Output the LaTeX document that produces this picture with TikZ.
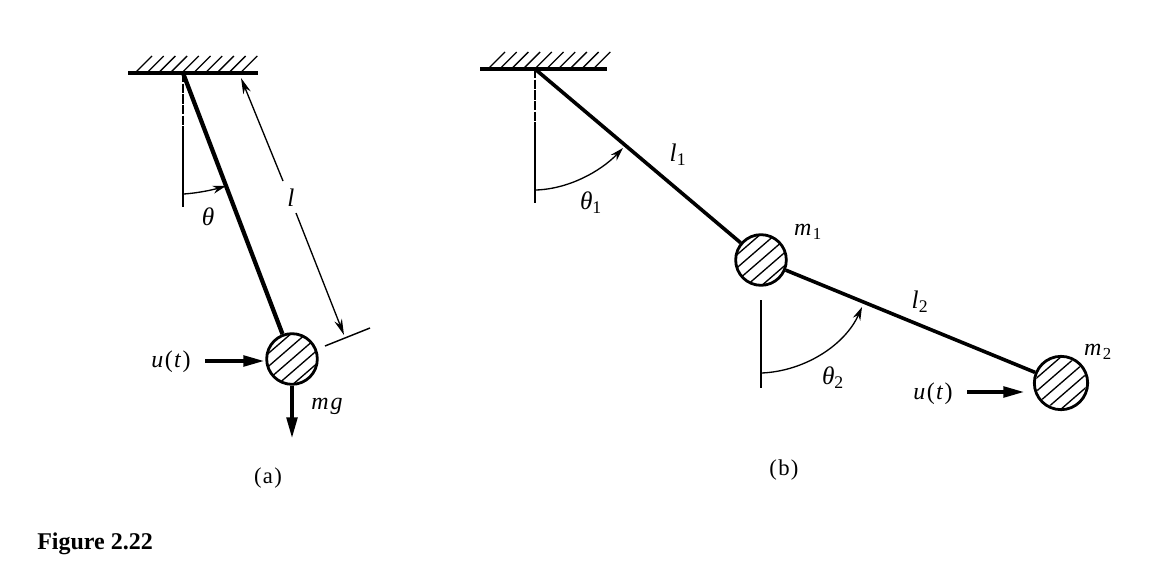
\documentclass[tikz,border=0pt]{standalone}
\usepackage{fontspec}
\setmainfont{Liberation Serif}
\usetikzlibrary{arrows.meta}
\tikzset{
  x=0.75pt,y=-0.75pt,
  ceil/.style={line width=2.5pt},
  hatchline/.style={line width=1pt},
  rod/.style={line width=3.2pt},
  rodb/.style={line width=2.7pt},
  thinline/.style={line width=1pt},
  dimarrow/.style={line width=1pt,-{Stealth[length=12pt,width=6pt]}},
  anglearrow/.style={line width=1pt,-{Stealth[length=10pt,width=6pt]}},
  force/.style={line width=3.6pt,-{Stealth[length=17pt,width=7.5pt,inset=0pt]}},
  ball/.style={circle,draw,line width=2.1pt,inner sep=0pt,minimum size=38pt},
  lab/.style={inner sep=0pt,font=\fontsize{18}{20}\selectfont},
  biglab/.style={inner sep=0pt,font=\fontsize{19}{21}\selectfont},
  caplab/.style={inner sep=0pt,font=\fontsize{17}{19}\selectfont}
}
\newcommand{\ballhatch}[1]{%
  \begin{scope}
    \clip (#1.center) circle[radius=25];
    \foreach \d in {-20,-10,0,10,20}
      \draw[hatchline] ([shift={(-30+\d*0.7,26+\d*0.7)}]#1.center) -- ([shift={(30+\d*0.7,-26+\d*0.7)}]#1.center);
  \end{scope}}
\newcommand{\ut}{\textit{u}\kern1pt(\kern1pt\textit{t}\kern1pt)}
\begin{document}
\begin{tikzpicture}
\useasboundingbox (0,0) rectangle (1167,563);
% ---------- (a)
\coordinate (pa) at (183,73);
\coordinate (ceilAL) at (128,73);
\coordinate (ceilAR) at (258,73);
\draw[ceil] (ceilAL) -- (ceilAR);
\foreach \i in {0,...,9}
  \draw[hatchline] (136+\i*11.7,72) -- (152+\i*11.7,56);
\node[ball] (ballA) at (292,359) {};
\ballhatch{ballA}
\draw[rod] (pa) -- (ballA);
\coordinate (vaEnd) at (183,207);
\coordinate (vaMid) at (183,135);
\draw[thinline,dash pattern=on 7pt off 1pt] (pa) -- (vaMid);
\draw[thinline] (vaMid) -- (vaEnd);
\coordinate (arcA1) at (184,194);
\coordinate (arcA2) at (226,186);
\draw[anglearrow] (arcA1) .. controls (198,193) and (212,190) .. (arcA2);
\node[biglab] (thetaA) at (208,217) {\textit{θ}};
\node[biglab] (lA) at (291,198) {\textit{l}};
\coordinate (lAtop) at (241,78);
\coordinate (lAbot) at (344,335);
\draw[dimarrow] (lA) ++(-8,-17) -- (lAtop);
\draw[dimarrow] (lA) ++(5,15) -- (lAbot);
\coordinate (tickA1) at (325,346);
\coordinate (tickA2) at (370,328);
\draw[line width=1.1pt] (tickA1) -- (tickA2);
\node[lab] (uA) at (171,362) {\ut};
\coordinate (uAs) at (205,361);
\coordinate (uAe) at (266,361);
\draw[force] (uAs) -- (uAe);
\coordinate (mgEnd) at (292,440);
\draw[force] (ballA.south) -- (mgEnd);
\node[lab] (mgl) at (327,406) {\textit{m}\kern1.5pt\textit{g}};
\node[caplab] (capA) at (268,478) {(\kern1pt a\kern1pt)};
% ---------- (b)
\coordinate (pb) at (535,69);
\coordinate (ceilBL) at (480,69);
\coordinate (ceilBR) at (607,69);
\draw[ceil] (ceilBL) -- (ceilBR);
\foreach \i in {0,...,9}
  \draw[hatchline] (489+\i*11.7,68) -- (505+\i*11.7,52);
\node[ball] (ballB) at (761,260) {};
\node[ball,minimum size=40pt] (ballC) at (1061,383) {};
\ballhatch{ballB}
\ballhatch{ballC}
\draw[rodb] (pb) -- (ballB);
\draw[rodb] (ballB) -- (ballC);
\coordinate (vbEnd) at (535,203);
\coordinate (vbMid) at (535,130);
\draw[thinline,dash pattern=on 7pt off 1pt] (pb) -- (vbMid);
\draw[thinline] (vbMid) -- (vbEnd);
\coordinate (arcB1) at (536,190);
\coordinate (arcB2) at (623,148);
\draw[anglearrow] (arcB1) .. controls (568,189) and (600,172) .. (arcB2);
\node[biglab] (th1) at (591,203) {\textit{θ}\textsubscript{1}};
\node[biglab] (l1) at (678,155) {\textit{l}\textsubscript{1}};
\node[lab] (m1) at (808,232) {\textit{m}\kern1pt\textsubscript{1}};
\coordinate (vcTop) at (761,300);
\coordinate (vcEnd) at (761,388);
\draw[thinline] (vcTop) -- (vcEnd);
\coordinate (arcC1) at (762,373);
\coordinate (arcC2) at (862,307);
\draw[anglearrow] (arcC1) .. controls (805,371) and (845,345) .. (arcC2);
\node[biglab] (th2) at (833,378) {\textit{θ}\textsubscript{2}};
\node[biglab] (l2) at (920,302) {\textit{l}\textsubscript{2}};
\node[lab] (m2) at (1098,352) {\textit{m}\kern1pt\textsubscript{2}};
\node[lab] (uB) at (933,394) {\ut};
\coordinate (uBs) at (967,392);
\coordinate (uBe) at (1026,392);
\draw[force] (uBs) -- (uBe);
\node[caplab] (capB) at (784,470) {(\kern1pt b\kern1pt)};
\node[anchor=base west,inner sep=0pt,font=\fontsize{18}{20}\selectfont\bfseries] (fig) at (37,549) {Figure 2.22};
\end{tikzpicture}
\end{document}
